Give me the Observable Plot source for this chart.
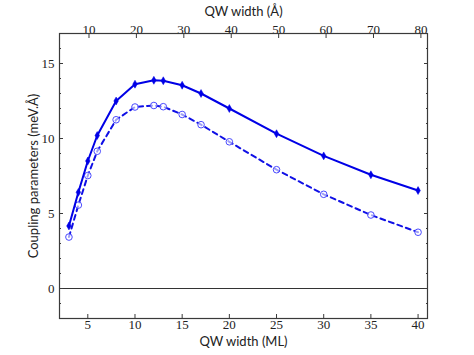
<!DOCTYPE html>
<html><head><meta charset="utf-8">
<script src="https://cdn.jsdelivr.net/npm/d3@7"></script>
<script src="https://cdn.jsdelivr.net/npm/@observablehq/plot@0.6"></script>
<style>
body{margin:0;background:#fff}
g[aria-label$="tick label"], g[aria-label$="tick label"] text { font-family: "Liberation Serif", "DejaVu Serif", serif !important; font-size: 13px !important; }
g.lbl text, g.lbl { font-family: Lato, "DejaVu Sans", sans-serif !important; }
</style>
</head><body><div id="chart"></div>
<script>
const widthML = [3, 4, 5, 6, 8, 10, 12, 13, 15, 17, 20, 25, 30, 35, 40];
const solidValues = [4.17, 6.41, 8.50, 10.20, 12.50, 13.62, 13.88, 13.85, 13.55, 13.00, 12.00, 10.32, 8.84, 7.58, 6.53];
const dashedValues = [3.43, 5.56, 7.53, 9.15, 11.25, 12.10, 12.20, 12.12, 11.60, 10.92, 9.78, 7.92, 6.28, 4.90, 3.75];
const bottomTicks = [5, 10, 15, 20, 25, 30, 35, 40];
const topTicksA = [10, 20, 30, 40, 50, 60, 70, 80];
const yMajor = [0, 5, 10, 15];
const yMinor = d3.range(-2, 18);
const xLabelBottom = "QW width (ML)";
const xLabelTop = "QW width (Å)";
const yLabel = "Coupling parameters (meV.Å)";

const solid = widthML.map((x, i) => ({x, y: solidValues[i]}));
const dashed = widthML.map((x, i) => ({x, y: dashedValues[i]}));
const aToML = a => a / 1.99 + 0.1;

const axisColor = "#3a3a3a";
const serif = "'Liberation Serif', serif";
const sans = "Lato, sans-serif";
const tickFont = {fontFamily: serif, fontSize: 13, fill: "#222"};

const chart = Plot.plot({
  width: 474, height: 355,
  marginLeft: 59, marginRight: 47, marginTop: 33, marginBottom: 37,
  x: {domain: [2, 41]},
  y: {domain: [-2, 17]},
  style: {fontFamily: serif, fontSize: "13px", background: "#fff", color: "#222"},
  marks: [
    Plot.ruleY([0], {stroke: "#333", strokeWidth: 1.2}),
    Plot.line(dashed, {x: "x", y: "y", stroke: "#1010e6", strokeWidth: 2, strokeDasharray: "5,4"}),
    Plot.dot(dashed, {x: "x", y: "y", r: 3.3, stroke: "#4a4aff", strokeWidth: 1, fill: "#fff", fillOpacity: 0.6}),
    Plot.line(solid, {x: "x", y: "y", stroke: "#0000e6", strokeWidth: 2}),
    Plot.dot(solid, {x: "x", y: "y", symbol: "diamond", r: 2.4, fill: "#0000e6", stroke: "#0000e6", strokeWidth: 0.5}),
    Plot.axisY(yMinor, {anchor: "left", tickSize: -2, tickFormat: () => "", label: null, stroke: axisColor}),
    Plot.axisY(yMinor, {anchor: "right", tickSize: -2, tickFormat: () => "", label: null, stroke: axisColor}),
    Plot.axisY(yMajor, {anchor: "left", tickSize: -4, tickPadding: 9, label: null, stroke: axisColor, ...tickFont}),
    Plot.axisY(yMajor, {anchor: "right", tickSize: -4, tickFormat: () => "", label: null, stroke: axisColor}),
    Plot.axisX(bottomTicks, {anchor: "bottom", tickSize: -4, tickPadding: 5, label: null, stroke: axisColor, ...tickFont}),
    Plot.axisX(topTicksA.map(aToML), {anchor: "top", tickSize: -4, tickPadding: 4, label: null, stroke: axisColor, ...tickFont,
      tickFormat: (d, i) => String(topTicksA[i])}),
    Plot.frame({stroke: axisColor, strokeWidth: 1.2}),
    Plot.text([xLabelBottom], {className: "lbl", frameAnchor: "bottom", dy: 23, lineAnchor: "middle", textAnchor: "middle", text: d => d, fontFamily: sans, fontSize: 13, fill: "#222"}),
    Plot.text([xLabelTop], {className: "lbl", frameAnchor: "top", dy: -22, lineAnchor: "middle", textAnchor: "middle", text: d => d, fontFamily: sans, fontSize: 13, fill: "#222"}),
    Plot.text([yLabel], {className: "lbl", frameAnchor: "left", dx: -26, rotate: -90, lineAnchor: "middle", textAnchor: "middle", text: d => d, fontFamily: sans, fontSize: 13, fill: "#222"})
  ]
});
document.getElementById("chart").append(chart);
</script>
</body></html>
